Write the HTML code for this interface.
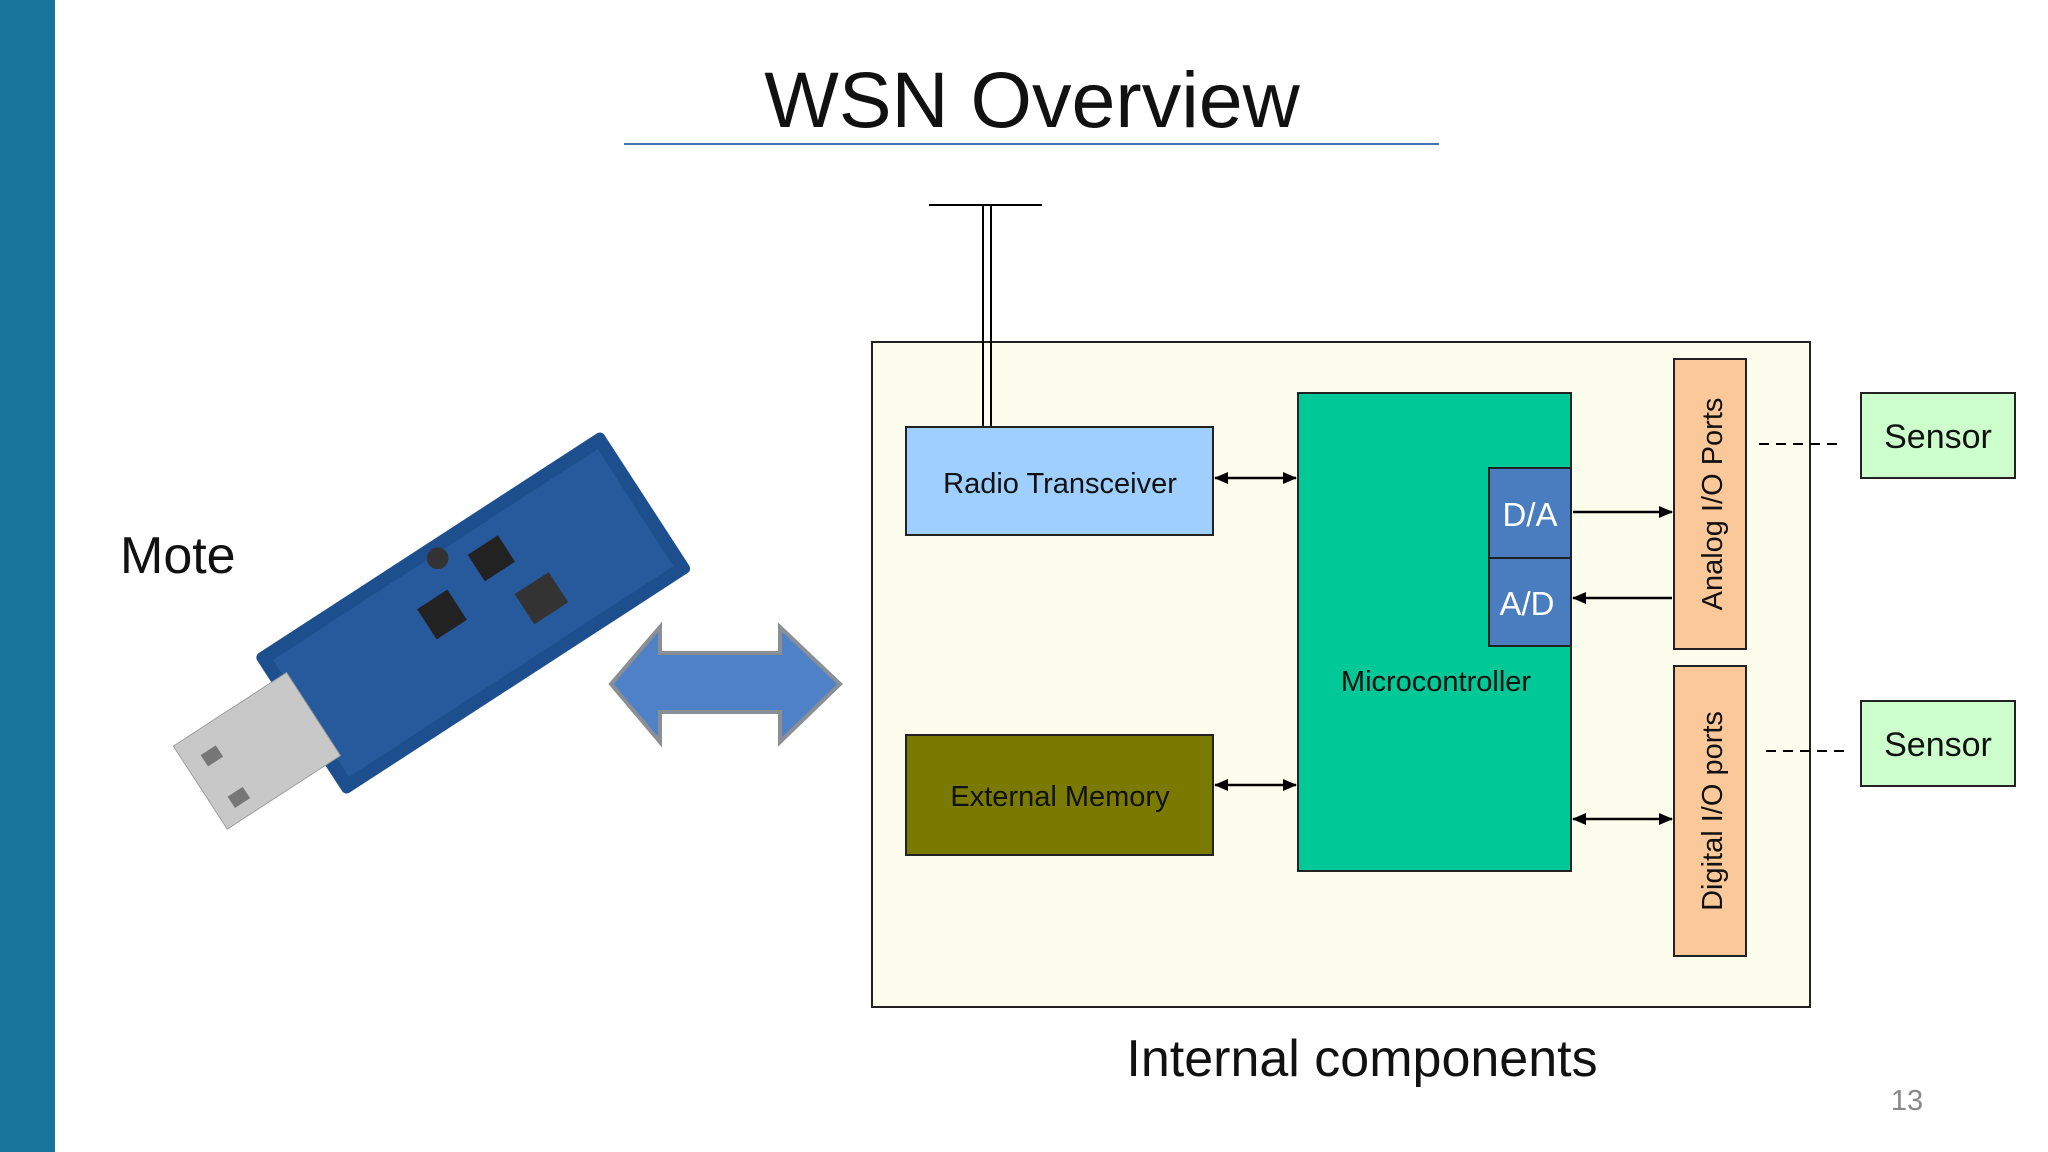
<!DOCTYPE html>
<html><head><meta charset="utf-8"><style>
html,body{margin:0;padding:0;background:#fff;}
svg{display:block;font-family:"Liberation Sans",sans-serif;}
</style></head><body>
<svg width="2048" height="1152" viewBox="0 0 2048 1152" xmlns="http://www.w3.org/2000/svg">
<defs>
<marker id="a" markerWidth="14" markerHeight="12" refX="13" refY="6" orient="auto-start-reverse" markerUnits="userSpaceOnUse"><path d="M0,0 L14,6 L0,12 z" fill="#000"/></marker>
</defs>
<rect x="0" y="0" width="2048" height="1152" fill="#fff"/>
<rect x="0" y="0" width="55" height="1152" fill="#17759c"/>
<text x="1032" y="127" font-size="79" text-anchor="middle" fill="#111">WSN Overview</text>
<line x1="624" y1="144" x2="1439" y2="144" stroke="#4a70b8" stroke-width="2"/>

<text x="120" y="573" font-size="52" fill="#111">Mote</text>

<!-- mote image approximation -->
<g transform="translate(482,610) scale(0.9) rotate(-33)">
  <rect x="-240" y="-95" width="460" height="185" fill="#1d4f8e" rx="6"/>
  <rect x="-225" y="-80" width="430" height="155" fill="#2d63a6" opacity="0.6"/>
  <rect x="-60" y="-40" width="40" height="40" fill="#222"/>
  <rect x="20" y="-60" width="40" height="35" fill="#222"/>
  <rect x="40" y="5" width="45" height="40" fill="#333"/>
  <circle cx="-10" cy="-75" r="12" fill="#333"/>
  <rect x="-370" y="-60" width="150" height="110" fill="#c8c8c8" stroke="#999"/>
  <rect x="-350" y="-35" width="20" height="15" fill="#777"/>
  <rect x="-350" y="20" width="20" height="15" fill="#777"/>
</g>

<!-- big double arrow -->
<path d="M611,684 L660,627 L660,653 L780,653 L780,627 L840,684 L780,742 L780,712 L660,712 L660,742 Z" fill="#4f81c6" stroke="#8a8f96" stroke-width="4"/>

<!-- outer box -->
<rect x="872" y="342" width="938" height="665" fill="#fdfdee" stroke="#222" stroke-width="2"/>

<!-- antenna -->
<line x1="983" y1="205" x2="983" y2="427" stroke="#000" stroke-width="2"/>
<line x1="991" y1="205" x2="991" y2="427" stroke="#000" stroke-width="2"/>
<line x1="929" y1="205" x2="1042" y2="205" stroke="#000" stroke-width="2"/>

<rect x="906" y="427" width="307" height="108" fill="#9fcfff" stroke="#222" stroke-width="2"/>
<text x="1060" y="493" font-size="29" text-anchor="middle" fill="#111">Radio Transceiver</text>

<rect x="906" y="735" width="307" height="120" fill="#7a7a00" stroke="#222" stroke-width="2"/>
<text x="1060" y="806" font-size="29" text-anchor="middle" fill="#111">External Memory</text>

<rect x="1298" y="393" width="273" height="478" fill="#00c896" stroke="#222" stroke-width="2"/>
<text x="1436" y="691" font-size="29" text-anchor="middle" fill="#111">Microcontroller</text>

<rect x="1489" y="468" width="82" height="90" fill="#4a7cc0" stroke="#222" stroke-width="2"/>
<text x="1530" y="526" font-size="33" text-anchor="middle" fill="#fff">D/A</text>
<rect x="1489" y="558" width="82" height="88" fill="#4a7cc0" stroke="#222" stroke-width="2"/>
<text x="1527" y="615" font-size="33" text-anchor="middle" fill="#fff">A/D</text>

<rect x="1674" y="359" width="72" height="290" fill="#fbc89a" stroke="#222" stroke-width="2"/>
<text transform="translate(1722,504) rotate(-90)" font-size="29" text-anchor="middle" fill="#111">Analog I/O Ports</text>
<rect x="1674" y="666" width="72" height="290" fill="#fbc89a" stroke="#222" stroke-width="2"/>
<text transform="translate(1722,811) rotate(-90)" font-size="29" text-anchor="middle" fill="#111">Digital I/O ports</text>

<rect x="1861" y="393" width="154" height="85" fill="#ccffcc" stroke="#222" stroke-width="2"/>
<text x="1938" y="448" font-size="34" text-anchor="middle" fill="#111">Sensor</text>
<rect x="1861" y="701" width="154" height="85" fill="#ccffcc" stroke="#222" stroke-width="2"/>
<text x="1938" y="756" font-size="34" text-anchor="middle" fill="#111">Sensor</text>

<g stroke="#000" stroke-width="2.5">
<line x1="1215" y1="478" x2="1296" y2="478" marker-start="url(#a)" marker-end="url(#a)"/>
<line x1="1215" y1="785" x2="1296" y2="785" marker-start="url(#a)" marker-end="url(#a)"/>
<line x1="1573" y1="512" x2="1672" y2="512" marker-end="url(#a)"/>
<line x1="1672" y1="598" x2="1573" y2="598" marker-end="url(#a)"/>
<line x1="1573" y1="819" x2="1672" y2="819" marker-start="url(#a)" marker-end="url(#a)"/>
</g>
<g stroke="#000" stroke-width="2" stroke-dasharray="10,7">
<line x1="1759" y1="444" x2="1841" y2="444"/>
<line x1="1766" y1="751" x2="1845" y2="751"/>
</g>

<text x="1362" y="1076" font-size="52" text-anchor="middle" fill="#111">Internal components</text>
<text x="1907" y="1110" font-size="29" text-anchor="middle" fill="#888">13</text>
</svg>
</body></html>
